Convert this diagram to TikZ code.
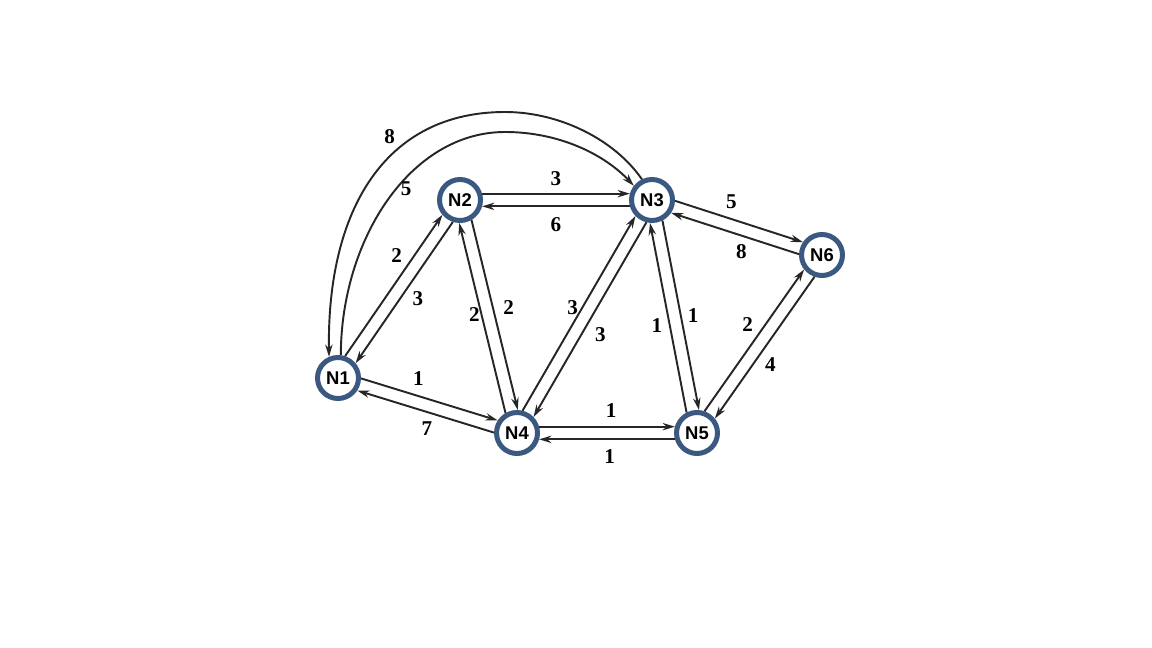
\documentclass[tikz,border=0pt]{standalone}
\usepackage{fontspec}
\setmainfont{Liberation Serif}
\setsansfont{Liberation Sans}
\usetikzlibrary{arrows.meta}
\definecolor{ringblue}{RGB}{59,89,128}

\begin{document}
\begin{tikzpicture}[
		x=0.02cm, y=-0.02cm,
		nd/.style={circle, draw=ringblue, line width=0.1cm, fill=white, minimum size=0.82cm, inner sep=0pt, font=\sffamily\bfseries\fontsize{10.5}{10.5}\selectfont},
		arr/.style={-{Stealth[length=7pt, width=4.2pt]}, line width=1.1pt, black!85},
		lbl/.style={font=\bfseries\fontsize{12}{12}\selectfont, inner sep=2pt, black}
	]
	\useasboundingbox (0,0) rectangle (1152,648);

		% Nodes
		\node[nd] (N1) at (338,378) {N1};
		\node[nd] (N2) at (460,200) {N2};
		\node[nd] (N3) at (652,200) {N3};
		\node[nd] (N4) at (517,433) {N4};
		\node[nd] (N5) at (697,433) {N5};
		\node[nd] (N6) at (822,255) {N6};

		% Arcs over the top
		\draw[arr] (N3.116) .. controls (615,140) and (560,112) .. (505,112)
			.. controls (385,112) and (327,210) .. node[lbl, pos=.36, above left] {8} (N1.113);
		\draw[arr] (N1.83) .. controls (341,240) and (410,132) .. node[lbl, pos=.6, below] {5} (505,132)
			.. controls (560,132) and (605,155) .. (N3.142);

		% Arrows
		\draw[arr] (N1.72) -- node[lbl, pos=.63, above left] {2} (N2.220);
		\draw[arr] (N2.252) -- node[lbl, pos=.46, below right] {3} (N1.40);
		\draw[arr] (N2.16) -- node[lbl, pos=.5, above=2pt] {3} (N3.164);
		\draw[arr] (N3.196) -- node[lbl, pos=.5, below=4pt] {6} (N2.-16);
		\draw[arr] (N3.-2) -- node[lbl, pos=.44, above=3.5pt] {5} (N6.146);
		\draw[arr] (N6.178) -- node[lbl, pos=.45, below=2.5pt] {8} (N3.-34);
		\draw[arr] (N2.-60) -- node[lbl, pos=.46, right=3.5pt] {2} (N4.88);
		\draw[arr] (N4.120) -- node[lbl, pos=.52, left, inner sep=0.5pt] {2} (N2.-92);
		\draw[arr] (N4.76) -- node[lbl, pos=.53, left] {3} (N3.224);
		\draw[arr] (N3.256) -- node[lbl, pos=.51, below right=1pt] {3} (N4.44);
		\draw[arr] (N3.-63) -- node[lbl, pos=.5, right=1.5pt] {1} (N5.85);
		\draw[arr] (N5.117) -- node[lbl, pos=.46, left=1.8pt] {1} (N3.-95);
		\draw[arr] (N5.71) -- node[lbl, pos=.53, above left] {2} (N6.219);
		\draw[arr] (N6.251) -- node[lbl, pos=.54, below right] {4} (N5.39);
		\draw[arr] (N1.-1) -- node[lbl, pos=.42, above=3.7pt] {1} (N4.147);
		\draw[arr] (N4.179) -- node[lbl, pos=.49, below=3pt] {7} (N1.-33);
		\draw[arr] (N4.16) -- node[lbl, pos=.53, above=2.5pt] {1} (N5.164);
		\draw[arr] (N5.196) -- node[lbl, pos=.48, below=3pt] {1} (N4.-16);

	\end{tikzpicture}
\end{document}
